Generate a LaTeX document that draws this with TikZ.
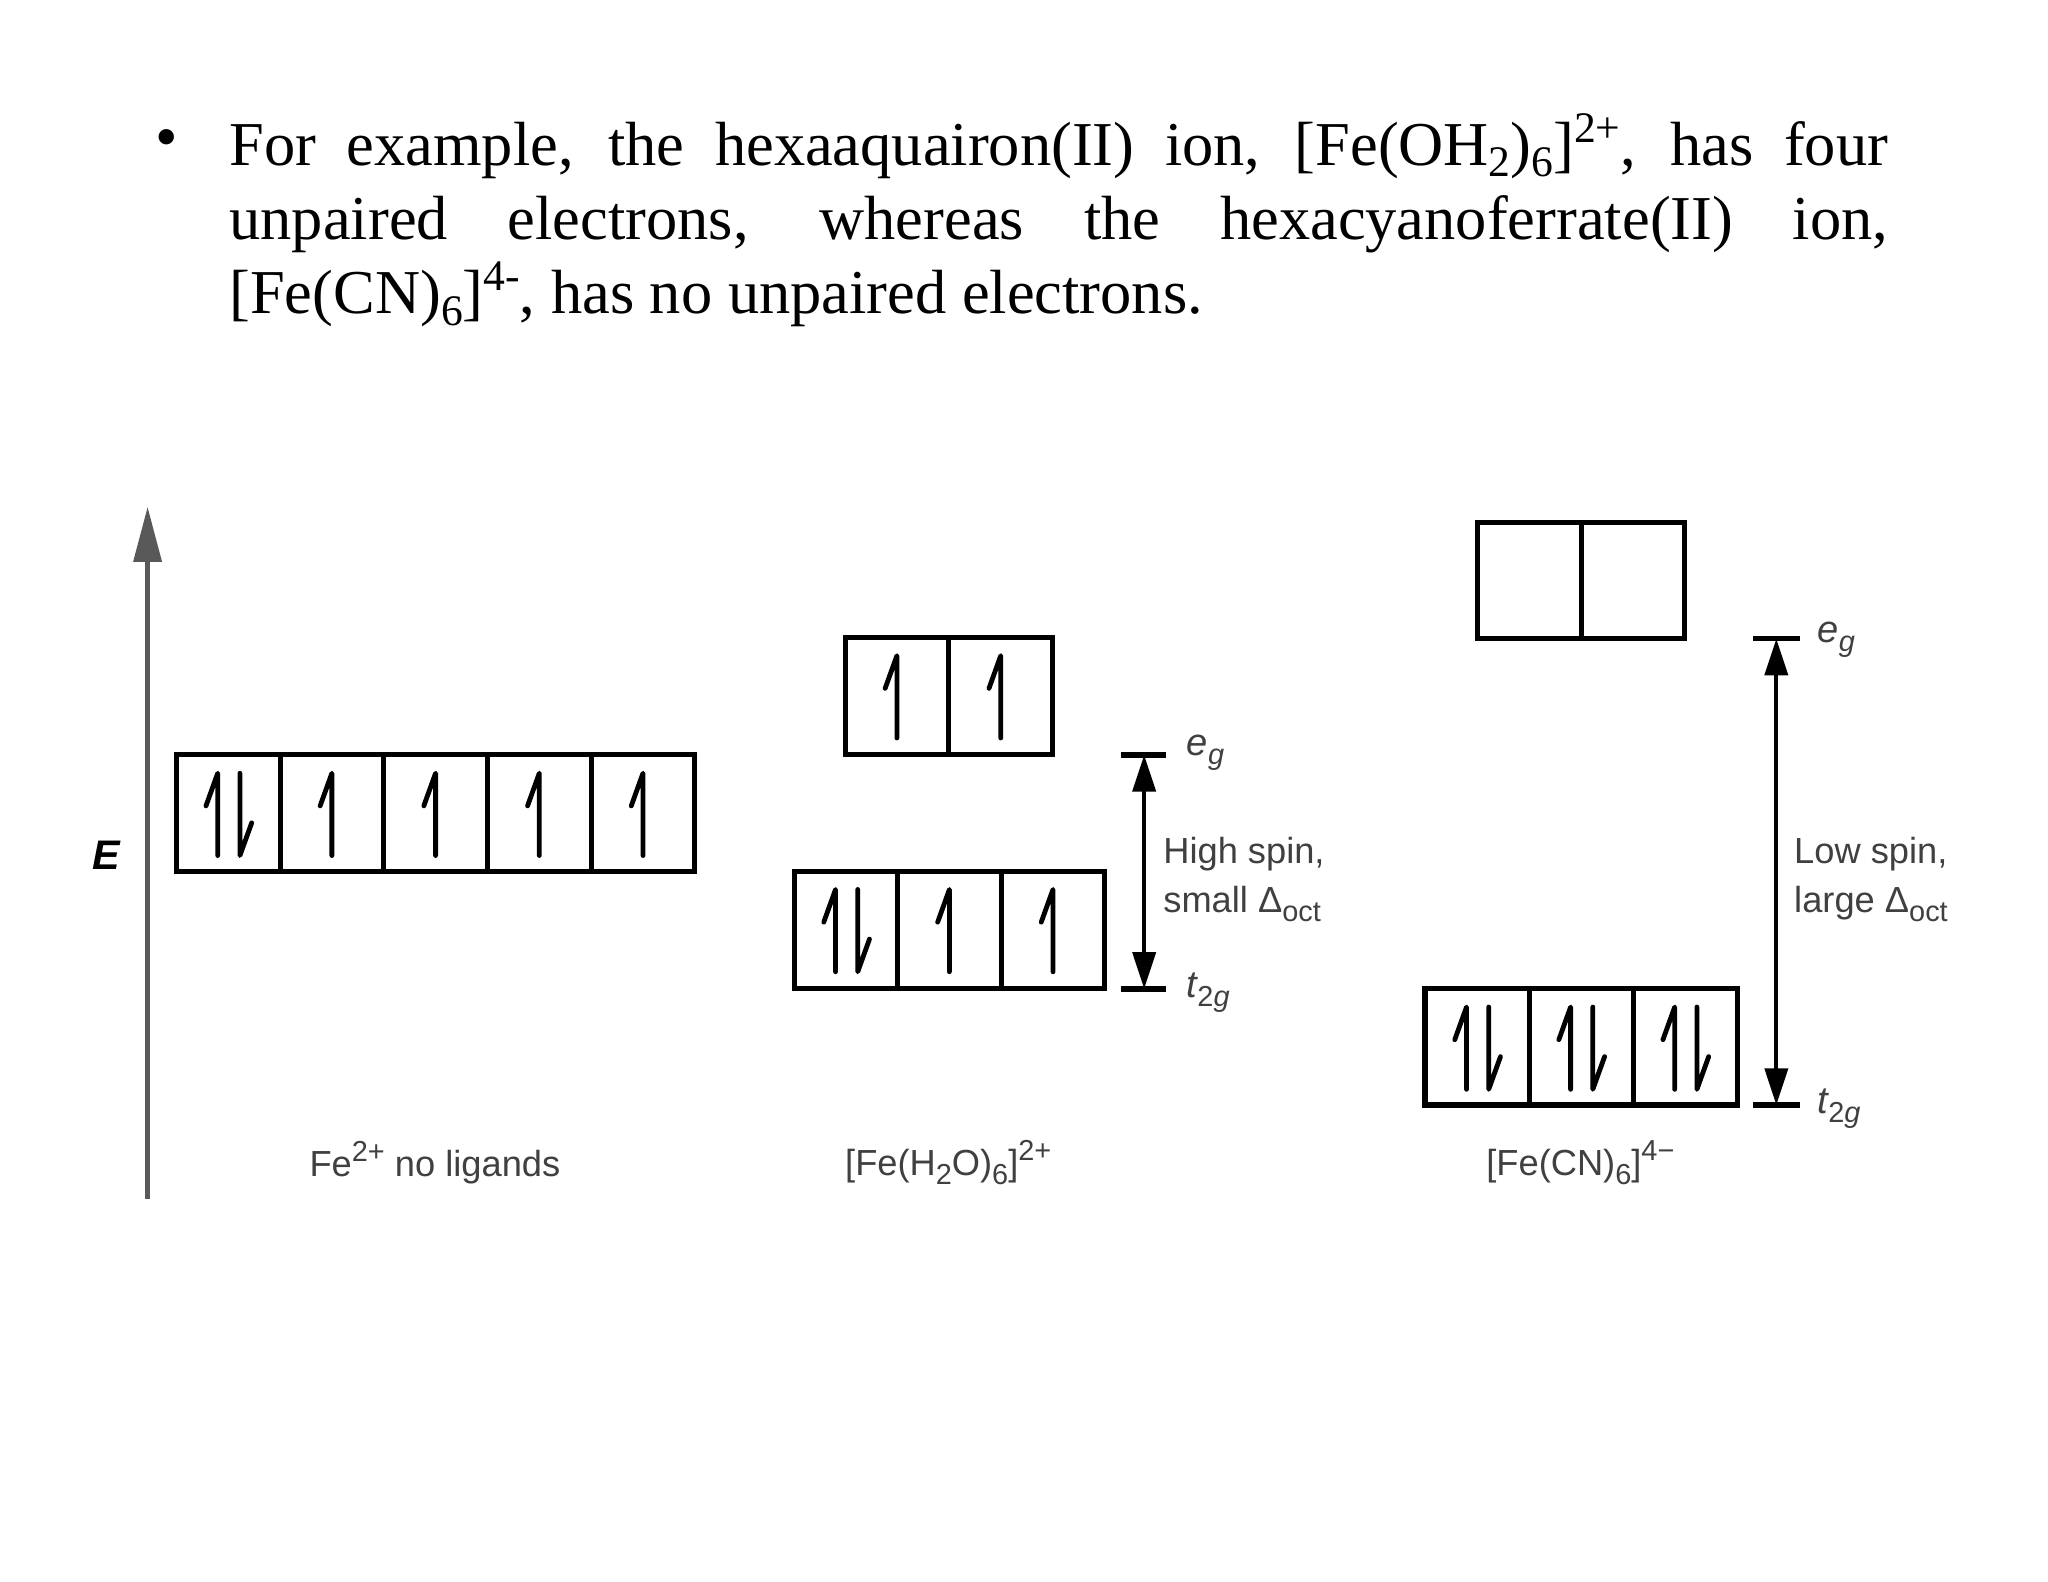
\documentclass[tikz,border=0pt]{standalone}
\usepackage{fontspec}
\setmainfont{Liberation Serif}
\setsansfont{Liberation Sans}
\usetikzlibrary{arrows.meta}
\newcommand\eup[3]{\draw[spin] (#1,#3) -- (#1,#2) -- (#1-9,#2+25);}
\newcommand\edn[3]{\draw[spin] (#1,#2) -- (#1,#3) -- (#1+9,#3-25);}
\newcommand\su[1]{\raisebox{0.8ex}{\fontsize{9.5}{10}\selectfont #1}}
\newcommand\sd[1]{\raisebox{-0.4ex}{\fontsize{9.5}{10}\selectfont #1}}
\newcommand\lsu[1]{\raisebox{0.8ex}{\fontsize{6.3}{7}\selectfont #1}}
\newcommand\lsd[1]{\raisebox{-0.45ex}{\fontsize{6.3}{7}\selectfont #1}}
\begin{document}
\begin{tikzpicture}[x=0.1mm,y=-0.1mm]
\tikzset{orb/.style={draw,line width=1.1pt},spin/.style={line width=1.05pt,line cap=round,line join=round},
lab/.style={font=\sffamily\fontsize{7.9}{10.8}\selectfont,text=black!75,inner sep=0pt},
tick/.style={line width=1.2pt}}
\useasboundingbox (0,0) rectangle (1568,1211);
\node[anchor=north west,text width=12.7cm,align=justify,inner sep=0pt,font=\fontsize{13.6}{16.2}\selectfont] (txt) at (175,86) {\hyphenpenalty=10000 For example, the hexaaquairon(II) ion, [Fe(OH\sd{2})\sd{6}]\su{2+}, has four\linebreak{} unpaired electrons, whereas the hexacyanoferrate(II) ion,\linebreak{} [Fe(CN)\sd{6}]\su{4-}, has no unpaired electrons.};
\node[font=\fontsize{14}{16}\selectfont,inner sep=0pt] (bul) at (128,110) {•};
% axis
\draw[black!65,line width=1.1pt,-{Triangle[length=12pt,width=6pt]}] (113,918) -- (113,388);
\node[font=\sffamily\bfseries\itshape\fontsize{9}{11}\selectfont,inner sep=0pt] (E) at (81,655) {E};
% Fe2+ boxes
\foreach \i in {0,...,4} \draw[orb] (135+79.4*\i,578) rectangle (135+79.4*\i+79.4,667);
\eup{166.7}{592}{655}\edn{183.7}{592}{655}
\foreach \i in {1,...,4} {\eup{174.7+79.4*\i}{592}{655}}
% H2O
\foreach \i in {0,1} \draw[orb] (647+79.5*\i,488) rectangle (647+79.5*\i+79.5,578);
\eup{686.7}{502}{565}\eup{766.2}{502}{565}
\foreach \i in {0,1,2} \draw[orb] (608+79.3*\i,667) rectangle (608+79.3*\i+79.3,757);
\eup{639.7}{681}{744}\edn{656.7}{681}{744}
\eup{726.9}{681}{744}\eup{806.2}{681}{744}
% CN
\foreach \i in {0,1} \draw[orb] (1131+79.5*\i,400) rectangle (1131+79.5*\i+79.5,489);
\foreach \i in {0,1,2} {\draw[orb] (1091+79.7*\i,757) rectangle (1091+79.7*\i+79.7,846);
 \eup{1122.8+79.7*\i}{771}{834}\edn{1139.8+79.7*\i}{771}{834}}
% delta H2O
\coordinate (a1) at (876,578); \coordinate (a2) at (876,757);
\draw[tick] (858,578) -- (893,578); \draw[tick] (858,757) -- (893,757);
\draw[line width=0.9pt,{Triangle[length=8pt,width=5pt]}-{Triangle[length=8pt,width=5pt]}] (a1) -- (a2);
\node[lab,font=\sffamily\itshape\fontsize{8.3}{10}\selectfont,anchor=west] (eg1) at (908,576) {e\lsd{g}};
\node[lab,font=\sffamily\itshape\fontsize{8.3}{10}\selectfont,anchor=west] (t1) at (908,760) {t\lsd{\upshape 2\itshape g}};
\node[lab,anchor=north west,align=left] (hs) at (890,640) {High spin,\\small Δ\lsd{oct}};
% delta CN
\coordinate (b1) at (1360,489); \coordinate (b2) at (1360,846);
\draw[tick] (1342,489) -- (1378,489); \draw[tick] (1342,846) -- (1378,846);
\draw[line width=0.9pt,{Triangle[length=8pt,width=5pt]}-{Triangle[length=8pt,width=5pt]}] (b1) -- (b2);
\node[lab,font=\sffamily\itshape\fontsize{8.3}{10}\selectfont,anchor=west] (eg2) at (1391,490) {e\lsd{g}};
\node[lab,font=\sffamily\itshape\fontsize{8.3}{10}\selectfont,anchor=west] (t2) at (1391,849) {t\lsd{\upshape 2\itshape g}};
\node[lab,anchor=north west,align=left] (ls) at (1373,640) {Low spin,\\large Δ\lsd{oct}};
% bottom labels
\node[lab] (l1) at (333,890) {Fe\lsu{2+} no ligands};
\node[lab] (l2) at (726,890) {[Fe(H\lsd{2}O)\lsd{6}]\lsu{2+}};
\node[lab] (l3) at (1210,890) {[Fe(CN)\lsd{6}]\lsu{4−}};
\end{tikzpicture}
\end{document}
